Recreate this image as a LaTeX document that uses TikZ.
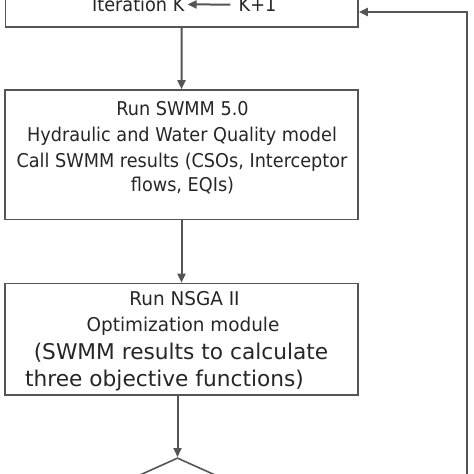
\documentclass[tikz,border=0pt]{standalone}
\usepackage{fontspec}
\setmainfont{DejaVu Sans}
\newfontfamily\condfont[FakeStretch=0.93]{DejaVu Sans}
\newfontfamily\semifont[FakeStretch=0.97]{DejaVu Sans}
\usetikzlibrary{arrows.meta,shapes.geometric}
\definecolor{linegray}{HTML}{555555}
\definecolor{textgray}{HTML}{262626}
\begin{document}
\begin{tikzpicture}[x=1pt,y=-1pt,
  box/.style={draw=linegray, line width=1.6pt, rectangle, inner sep=0pt},
  cond/.style={font=\condfont\fontsize{19}{23}\selectfont, text=textgray, inner sep=0pt, anchor=base},
  semi/.style={font=\semifont\fontsize{19}{23}\selectfont, text=textgray, inner sep=0pt, anchor=base},
  wide/.style={font=\fontsize{21.7}{26}\selectfont, text=textgray, inner sep=0pt, anchor=base},
  flow/.style={draw=linegray, line width=2pt, -{Triangle[length=9pt,width=8pt]}},
  decision/.style={diamond, draw=linegray, line width=1.6pt, inner sep=0pt, minimum width=240pt, minimum height=108pt}]
\useasboundingbox (0,0) rectangle (474,474);
\clip (0,0) rectangle (474,474);
% boxes
\node[box, minimum width=352.5pt, minimum height=47pt] (box1) at (181.75,3.5) {};
\node[box, minimum width=353pt, minimum height=129.5pt] (box2) at (181.5,154.75) {};
\node[box, minimum width=353pt, minimum height=111.5pt] (box3) at (181.5,339.25) {};
\node[decision, anchor=north] (dia) at (177.5,457) {};
% texts
\node[cond] (itk) at (138.3,11.5) {Iteration K};
\node[cond] (kp1) at (257.5,11.5) {K+1};
\node[cond] (t21) at (182.5,115) {Run SWMM 5.0};
\node[cond] (t22) at (182,141.7) {Hydraulic and Water Quality model};
\node[cond] (t23) at (182,167) {Call SWMM results (CSOs, Interceptor};
\node[cond] (t24) at (182.5,191.7) {flows, EQIs)};
\node[semi] (t31) at (184.5,305) {Run NSGA II};
\node[semi] (t32) at (183,331.7) {Optimization module};
\node[wide] (t33) at (181,359) {(SWMM results to calculate};
\node[wide] (t34) at (164.5,386.7) {three objective functions)};
% connectors
\draw[flow] ([xshift=-8pt]kp1.west) -- ([xshift=3pt]itk.east);
\draw[flow] (box1.south) -- (box2.north);
\draw[flow] (box2.south) -- (box3.north);
\draw[flow] (box3.south -| dia.north) -- (dia.north);
\coordinate (fbcorner) at (467,12);
\draw[flow] (dia.east) -| (fbcorner) -- (fbcorner -| box1.east);
\end{tikzpicture}
\end{document}
